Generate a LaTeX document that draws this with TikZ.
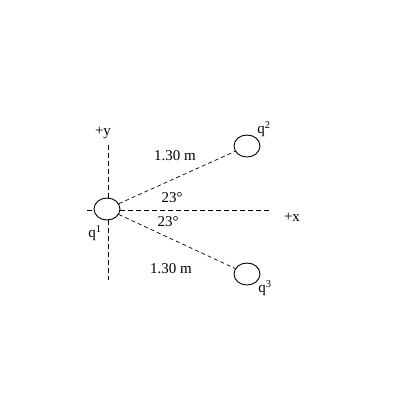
\documentclass[tikz,border=0pt]{standalone}
\usepackage{fontspec}
\setmainfont{Liberation Serif}
\usetikzlibrary{shapes.geometric}
\begin{document}
\begin{tikzpicture}[x=1pt,y=-1pt,
  charge/.style={draw,ellipse,minimum width=26pt,minimum height=22pt,inner sep=0pt,line width=0.9pt},
  axis/.style={dash pattern=on 5pt off 3pt,line width=0.9pt},
  diag/.style={dash pattern=on 4pt off 3pt,line width=0.7pt},
  lbl/.style={font=\fontsize{15}{17}\selectfont,inner sep=0pt}]
\useasboundingbox (0,0) rectangle (400,400);
\node[charge] (q1) at (107,209) {};
\node[charge] (q2) at (247,146) {};
\node[charge] (q3) at (247,274) {};
\coordinate (ytop) at (108,145);
\coordinate (ybot) at (108,280);
\coordinate (xleft) at (87,210);
\coordinate (xright) at (272,210);
\draw[axis] (ytop) -- (q1.north -| ytop);
\draw[axis] (q1.south -| ybot) -- (ybot);
\draw[axis] (xleft) -- (q1.west |- xleft);
\draw[axis] (q1.east |- xright) -- (xright);
\draw[diag] (q1) -- (q2);
\draw[diag] (q1) -- (q3);
\node[lbl] (ly) at (103,133) {+y};
\node[lbl] (lx) at (292,217) {+x};
\node[lbl] (l1) at (95,233) {q\textsuperscript{1}};
\node[lbl] (l2) at (264,129) {q\textsuperscript{2}};
\node[lbl] (l3) at (265,288) {q\textsuperscript{3}};
\node[lbl] (d1) at (175,156) {1.30 m};
\node[lbl] (d2) at (171,269) {1.30 m};
\node[lbl] (a1) at (172,198) {23°};
\node[lbl] (a2) at (168,222) {23°};
\end{tikzpicture}
\end{document}
